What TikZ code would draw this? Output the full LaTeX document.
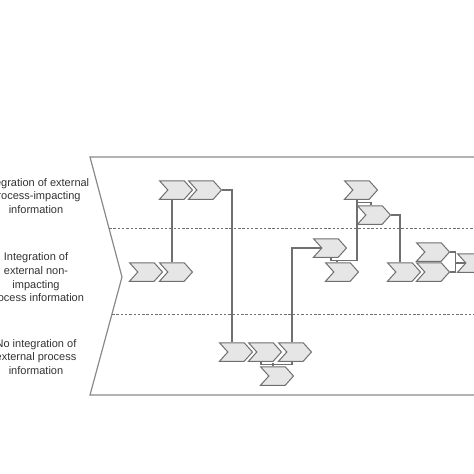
\documentclass[tikz,border=0pt]{standalone}
\usepackage{fontspec}
\setmainfont{Liberation Sans}
\usetikzlibrary{shapes.symbols}
\definecolor{ln}{HTML}{707070}
\definecolor{fr}{HTML}{8A8A8A}
\definecolor{chf}{HTML}{E6E6E6}
\definecolor{txt}{HTML}{333333}
\begin{document}
\begin{tikzpicture}[x=1pt,y=-1pt,
  chev/.style={signal, signal to=east, signal from=west, signal pointer angle=96,
    draw=ln, fill=chf, line width=1pt, minimum width=33pt, minimum height=18.5pt, inner sep=0pt},
  conn/.style={draw=ln, line width=1.1pt},
  frame/.style={draw=fr, line width=1.2pt},
  sep/.style={draw=ln, line width=0.8pt, dash pattern=on 2.5pt off 1.8pt},
  lab/.style={align=center, font=\fontsize{11}{13.6}\selectfont, text=txt}]
\useasboundingbox (0,0) rectangle (474,474);
\clip (0,0) rectangle (474,474);
\fill[white] (0,0) rectangle (474,474);
% frame
\coordinate (f1) at (480,157);
\coordinate (f2) at (90,157);
\coordinate (f3) at (122,277);
\coordinate (f4) at (90,395);
\coordinate (f5) at (480,395);
\draw[frame] (f1) -- (f2) -- (f3) -- (f4) -- (f5);
% separators
\coordinate (s1a) at (109,228);
\coordinate (s1b) at (480,228);
\coordinate (s2a) at (112,314);
\coordinate (s2b) at (480,314);
\draw[sep] (s1a) -- (s1b);
\draw[sep] (s2a) -- (s2b);
% labels
\node[lab] (L1) at (36,196) {Integration of external\\process-impacting\\information};
\node[lab] (L2) at (36,278.5) {Integration of\\external non-\\impacting\\process information};
\node[lab] (L3) at (36,357) {No integration of\\external process\\information};
% chevrons
\node[chev] (A1) at (176,190) {};
\node[chev] (A2) at (205,190) {};
\node[chev] (B1) at (146,272) {};
\node[chev] (B2) at (176,272) {};
\node[chev] (C1) at (236,352) {};
\node[chev] (C2) at (265,352) {};
\node[chev] (C3) at (295,352) {};
\node[chev] (C4) at (277,376) {};
\node[chev] (D1) at (330,248) {};
\node[chev] (D2) at (342,272) {};
\node[chev] (E1) at (361,190) {};
\node[chev] (E2) at (374,215) {};
\node[chev] (F1) at (404,272) {};
\node[chev] (F2) at (433,272) {};
\node[chev] (F3) at (433,252) {};
\node[chev] (G) at (474,263) {};
% connectors
\draw[conn] ([xshift=-4pt]A1.south) -- ([xshift=-4pt]A1.south |- B2.north);
\draw[conn] (A2.east) -| ([xshift=-4pt]C1.north);
\draw[conn] ([xshift=-4pt]C2.south) |- ([xshift=-3pt,yshift=-3pt]C3.south) -- ([xshift=-3pt]C3.south);
\draw[conn] ([xshift=-4pt]C4.north) -- ([xshift=-4pt,yshift=3pt]C4.north);
\draw[conn] ([xshift=-3pt]C3.north) |- (D1.west);
\draw[conn] ([xshift=1pt]D1.south) -- ([xshift=1pt,yshift=-3pt]D1.south) -| ([xshift=-4pt]E1.south);
\draw[conn] ([xshift=-5pt]D2.north) -- ([xshift=-5pt,yshift=2pt]D2.north);
\draw[conn] ([xshift=-3pt]E2.north) |- ([xshift=-4pt,yshift=-3pt]E1.south);
\draw[conn] (E2.east) -| ([xshift=-4pt]F1.north);
\draw[conn] (F3.east) -| ([xshift=5pt]F2.east) -- (F2.east);
\draw[conn] ([xshift=5pt]F2.east |- G.west) -- (G.west);
\end{tikzpicture}
\end{document}
